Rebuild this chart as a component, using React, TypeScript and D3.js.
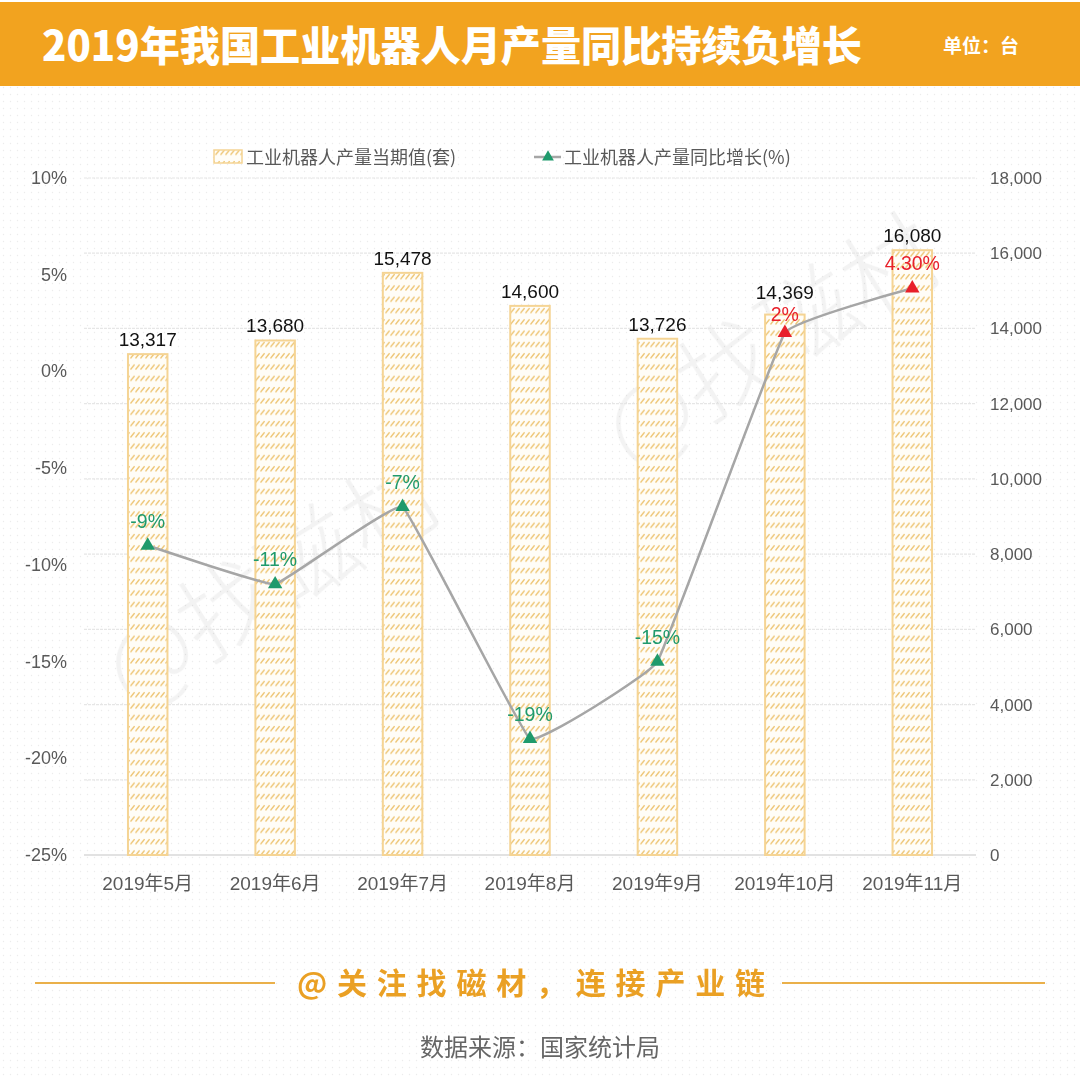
import React, { useEffect, useRef } from 'react';
import * as d3 from 'd3';

// monthly output of industrial robots (sets) and year-on-year growth (%)
const months = ['2019年5月', '2019年6月', '2019年7月', '2019年8月', '2019年9月', '2019年10月', '2019年11月'];
const output = [13317, 13680, 15478, 14600, 13726, 14369, 16080];
const growth = [-9, -11, -7, -19, -15, 2, 4.3];
const growthLabels = ['-9%', '-11%', '-7%', '-19%', '-15%', '2%', '4.30%'];
const pctTicks = [-25, -20, -15, -10, -5, 0, 5, 10];
const countTicks = [0, 2000, 4000, 6000, 8000, 10000, 12000, 14000, 16000, 18000];

const FONT = "'Liberation Sans', Arial, 'Noto Sans CJK SC', sans-serif";
const CJK = "'Noto Sans CJK SC', 'Liberation Sans', sans-serif";
const ORANGE = '#f2a31f';
const GREEN = '#1f9a6c';
const RED = '#e8202a';

const App = () => {
  const svgRef = useRef<SVGSVGElement>(null);

  useEffect(() => {
    const svg = d3.select(svgRef.current);
    svg.selectAll('*').remove();

    const width = 1080;
    const height = 1079;
    const plot = { left: 84, right: 976, top: 178, bottom: 855 };

    svg.attr('width', width).attr('height', height);

    const defs = svg.append('defs');

    // faint dotted paper background
    const dots = defs.append('pattern')
      .attr('id', 'dots')
      .attr('width', 7).attr('height', 7)
      .attr('patternUnits', 'userSpaceOnUse');
    dots.append('rect').attr('width', 7).attr('height', 7).attr('fill', '#ffffff');
    dots.append('circle').attr('cx', 3.5).attr('cy', 3.5).attr('r', 0.7).attr('fill', '#ececec');

    // short slash rows used in the bars
    const hatch = defs.append('pattern')
      .attr('id', 'hatch')
      .attr('width', 5).attr('height', 11.3)
      .attr('patternUnits', 'userSpaceOnUse');
    hatch.append('rect').attr('width', 5).attr('height', 11.3).attr('fill', '#fffdf7');
    hatch.append('line')
      .attr('x1', 0.5).attr('y1', 8).attr('x2', 4.5).attr('y2', 3)
      .attr('stroke', '#eec574').attr('stroke-width', 1.3);

    svg.append('rect').attr('width', width).attr('height', height).attr('fill', 'url(#dots)');

    // title bar
    svg.append('rect')
      .attr('x', 0).attr('y', 2).attr('width', width).attr('height', 84)
      .attr('fill', ORANGE);
    svg.append('text')
      .attr('x', 42).attr('y', 61)
      .attr('textLength', 820).attr('lengthAdjust', 'spacingAndGlyphs')
      .style('font-family', CJK).style('font-weight', 900).style('font-size', '41px')
      .attr('fill', '#ffffff')
      .text('2019年我国工业机器人月产量同比持续负增长');
    svg.append('text')
      .attr('x', 943).attr('y', 53)
      .style('font-family', CJK).style('font-weight', 700).style('font-size', '19px')
      .attr('fill', '#ffffff')
      .text('单位：台');

    // scales
    const x = d3.scaleBand<string>().domain(months).range([plot.left, plot.right]).padding(0);
    const barWidth = x.bandwidth() * 0.31;
    const yPct = d3.scaleLinear().domain([-25, 10]).range([plot.bottom, plot.top]);
    const yCount = d3.scaleLinear().domain([0, 18000]).range([plot.bottom, plot.top]);
    const cx = (i: number) => (x(months[i]) as number) + x.bandwidth() / 2;

    // label positions: growth label sits above its marker but not above the bar top,
    // the bar's value label is lifted when the two would meet
    const growthY = growth.map((d, i) => Math.max(yPct(d) - 18, yCount(output[i]) + 6));
    const outputY = output.map((d, i) => Math.min(yCount(d) - 8, growthY[i] - 22));

    // watermark
    const wm = svg.append('g').attr('opacity', 0.05);
    [[290, 610], [790, 370]].forEach(([wx, wy]) => {
      wm.append('text')
        .attr('transform', `translate(${wx},${wy}) rotate(-32)`)
        .attr('text-anchor', 'middle')
        .style('font-family', CJK).style('font-size', '96px').style('font-weight', 300)
        .attr('fill', '#000')
        .text('@找磁材');
    });

    // gridlines follow the right axis
    svg.append('g')
      .selectAll('line')
      .data(countTicks.slice(1))
      .enter().append('line')
      .attr('x1', plot.left).attr('x2', plot.right)
      .attr('y1', d => yCount(d)).attr('y2', d => yCount(d))
      .attr('stroke', '#e6e6e6').attr('stroke-width', 1.2)
      .attr('stroke-dasharray', '3,1');

    svg.append('line')
      .attr('x1', plot.left).attr('x2', plot.right)
      .attr('y1', plot.bottom).attr('y2', plot.bottom)
      .attr('stroke', '#d9d9d9').attr('stroke-width', 1.5);

    // left axis labels
    svg.append('g')
      .selectAll('text')
      .data(pctTicks)
      .enter().append('text')
      .attr('x', 67).attr('y', d => yPct(d) + 6)
      .attr('text-anchor', 'end')
      .style('font-family', FONT).style('font-size', '18px')
      .attr('fill', '#595959')
      .text(d => `${d}%`);

    // right axis labels
    svg.append('g')
      .selectAll('text')
      .data(countTicks)
      .enter().append('text')
      .attr('x', 990).attr('y', d => yCount(d) + 6)
      .style('font-family', FONT).style('font-size', '17px')
      .attr('fill', '#595959')
      .text(d => d3.format(',')(d));

    // x axis labels
    svg.append('g')
      .selectAll('text')
      .data(months)
      .enter().append('text')
      .attr('x', (d, i) => cx(i))
      .attr('y', 890)
      .attr('text-anchor', 'middle')
      .style('font-family', FONT).style('font-size', '19px')
      .attr('fill', '#595959')
      .text(d => d);

    // bars
    const barG = svg.append('g');
    barG.selectAll('rect')
      .data(output)
      .enter().append('rect')
      .attr('x', (d, i) => cx(i) - barWidth / 2)
      .attr('y', d => yCount(d))
      .attr('width', barWidth)
      .attr('height', d => plot.bottom - yCount(d))
      .attr('fill', 'url(#hatch)')
      .attr('stroke', '#f5d494').attr('stroke-width', 2);

    barG.selectAll('text')
      .data(output)
      .enter().append('text')
      .attr('x', (d, i) => cx(i))
      .attr('y', (d, i) => outputY[i])
      .attr('text-anchor', 'middle')
      .style('font-family', FONT).style('font-size', '19px')
      .attr('fill', '#111')
      .text(d => d3.format(',')(d));

    // growth line, lightly smoothed
    const line = d3.line<number>()
      .x((d, i) => cx(i))
      .y(d => yPct(d))
      .curve(d3.curveCardinal.tension(0.8));

    svg.append('path')
      .datum(growth)
      .attr('d', line)
      .attr('fill', 'none')
      .attr('stroke', '#a6a6a6')
      .attr('stroke-width', 2.5);

    const tri = d3.symbol().type(d3.symbolTriangle).size(90);
    svg.append('g')
      .selectAll('path')
      .data(growth)
      .enter().append('path')
      .attr('d', tri)
      .attr('transform', (d, i) => `translate(${cx(i)},${yPct(d)})`)
      .attr('fill', d => (d < 0 ? GREEN : RED));

    svg.append('g')
      .selectAll('text')
      .data(growth)
      .enter().append('text')
      .attr('x', (d, i) => cx(i))
      .attr('y', (d, i) => growthY[i])
      .attr('text-anchor', 'middle')
      .style('font-family', FONT).style('font-size', '19.5px')
      .attr('fill', d => (d < 0 ? GREEN : RED))
      .text((d, i) => growthLabels[i]);

    // legend
    const legend = svg.append('g');
    legend.append('rect')
      .attr('x', 214).attr('y', 150).attr('width', 28).attr('height', 13)
      .attr('fill', 'url(#hatch)').attr('stroke', '#f5d494').attr('stroke-width', 1.5);
    legend.append('text')
      .attr('x', 246).attr('y', 164)
      .style('font-family', CJK).style('font-size', '18px')
      .attr('fill', '#595959')
      .text('工业机器人产量当期值(套)');
    legend.append('line')
      .attr('x1', 534).attr('x2', 561).attr('y1', 157).attr('y2', 157)
      .attr('stroke', '#a6a6a6').attr('stroke-width', 2.5);
    legend.append('path')
      .attr('d', d3.symbol().type(d3.symbolTriangle).size(60))
      .attr('transform', 'translate(548,157)')
      .attr('fill', GREEN);
    legend.append('text')
      .attr('x', 564).attr('y', 164)
      .style('font-family', CJK).style('font-size', '18px')
      .attr('fill', '#595959')
      .text('工业机器人产量同比增长(%)');

    // footer
    svg.append('line')
      .attr('x1', 35).attr('x2', 275).attr('y1', 983).attr('y2', 983)
      .attr('stroke', '#eab04a').attr('stroke-width', 2);
    svg.append('line')
      .attr('x1', 782).attr('x2', 1045).attr('y1', 983).attr('y2', 983)
      .attr('stroke', '#eab04a').attr('stroke-width', 2);
    svg.append('text')
      .attr('x', 297).attr('y', 994)
      .attr('textLength', 468).attr('lengthAdjust', 'spacing')
      .style('font-family', CJK).style('font-size', '30px').style('font-weight', 700)
      .attr('fill', '#eaa024')
      .text('@关注找磁材，连接产业链');
    svg.append('text')
      .attr('x', 540).attr('y', 1056)
      .attr('text-anchor', 'middle')
      .style('font-family', CJK).style('font-size', '24px')
      .attr('fill', '#666666')
      .text('数据来源：国家统计局');
  }, []);

  return <svg ref={svgRef} style={{ display: 'block', position: 'absolute', left: 0, top: 0 }}></svg>;
};

export default App;
